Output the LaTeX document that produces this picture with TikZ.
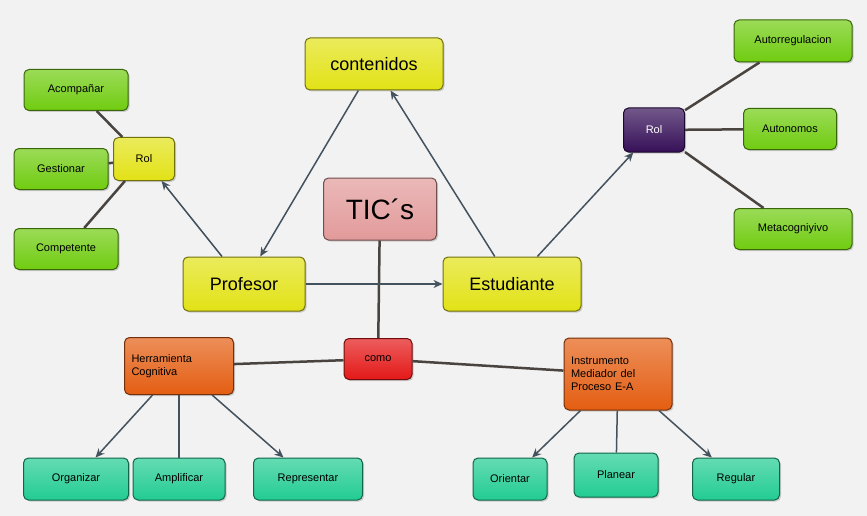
\documentclass[tikz,border=0pt]{standalone}
\usepackage{fontspec}
\setmainfont{Liberation Sans}
\usetikzlibrary{shadows,arrows.meta}
\definecolor{bgc}{HTML}{F2F2F2}
\definecolor{yel}{HTML}{E2E216}
\definecolor{grn}{HTML}{70CC10}
\definecolor{tea}{HTML}{22CC92}
\definecolor{org}{HTML}{E45E12}
\definecolor{rdc}{HTML}{E41818}
\definecolor{pur}{HTML}{361058}
\definecolor{pnk}{HTML}{E29A9A}
\definecolor{arr}{HTML}{44525E}
\definecolor{thk}{HTML}{4A4440}
\tikzset{
 x=1pt,y=-1pt,
 box/.style={draw=#1!50!black,line width=1pt,rounded corners=5pt,top color=#1!70!white,bottom color=#1,
  drop shadow={shadow xshift=1.5pt,shadow yshift=-1.5pt,opacity=0.35},inner sep=0pt,align=center,font=\fontsize{11}{13}\selectfont},
 arw/.style={draw=arr,line width=1.5pt,-{Stealth[length=9pt,width=8pt]}},
 plainarr/.style={draw=arr,line width=1.5pt},
 thick line/.style={draw=thk,line width=2.5pt},
}
\begin{document}
\begin{tikzpicture}
\fill[bgc] (0,0) rectangle (867,516);
\useasboundingbox (0,0) rectangle (867,516);
\node[box=yel,minimum width=138pt,minimum height=52pt,font=\fontsize{18}{20}\selectfont] (cont) at (374,64) {contenidos};
\node[box=pnk,minimum width=113pt,minimum height=62pt,font=\fontsize{28}{30}\selectfont] (tic) at (380,209) {TIC´s};
\node[box=yel,minimum width=122pt,minimum height=54pt,font=\fontsize{18}{20}\selectfont] (prof) at (244,284) {Profesor};
\node[box=yel,minimum width=138pt,minimum height=54pt,font=\fontsize{18}{20}\selectfont] (est) at (512,284) {Estudiante};
\node[box=yel,minimum width=61pt,minimum height=43pt] (rolL) at (144,159) {Rol};
\node[box=grn,minimum width=104pt,minimum height=41pt] (aco) at (76,90) {Acompañar};
\node[box=grn,minimum width=94pt,minimum height=41pt] (ges) at (61,169) {Gestionar};
\node[box=grn,minimum width=104pt,minimum height=41pt] (com) at (66,249) {Competente};
\node[box=pur,minimum width=61pt,minimum height=44pt,text=white] (rolR) at (654,130) {Rol};
\node[box=grn,minimum width=118pt,minimum height=42pt] (aut) at (793,41) {Autorregulacion};
\node[box=grn,minimum width=93pt,minimum height=41pt] (auto) at (790,129) {Autonomos};
\node[box=grn,minimum width=118pt,minimum height=41pt] (meta) at (793,229) {Metacogniyivo};
\node[box=rdc,minimum width=68pt,minimum height=41pt] (como) at (378,359) {como};
\node[box=org,minimum width=109pt,minimum height=57pt,align=left,text width=95pt] (her) at (179,366) {Herramienta\\Cognitiva};
\node[box=org,minimum width=108pt,minimum height=72pt,align=left,text width=94pt] (ins) at (618,374) {Instrumento\\Mediador del\\Proceso E-A};
\node[box=tea,minimum width=105pt,minimum height=42pt] (orgz) at (76,479) {Organizar};
\node[box=tea,minimum width=92pt,minimum height=42pt] (amp) at (179,479) {Amplificar};
\node[box=tea,minimum width=109pt,minimum height=42pt] (rep) at (308,479) {Representar};
\node[box=tea,minimum width=74pt,minimum height=42pt] (ori) at (510,479) {Orientar};
\node[box=tea,minimum width=84pt,minimum height=44pt] (pla) at (616,475) {Planear};
\node[box=tea,minimum width=87pt,minimum height=42pt] (reg) at (736,479) {Regular};
\draw[thick line] (rolL) -- (aco);
\draw[thick line] (rolL) -- (ges);
\draw[thick line] (rolL) -- (com);
\draw[thick line] (rolR) -- (aut);
\draw[thick line] (rolR) -- (auto);
\draw[thick line] (rolR) -- (meta);
\draw[thick line] (tic) -- (como);
\draw[thick line] (como) -- (her);
\draw[thick line] (como) -- (ins);
\draw[arw] (cont) -- (prof);
\draw[arw] (est) -- (cont);
\draw[arw] (prof) -- (est);
\draw[arw] (prof) -- (rolL);
\draw[arw] (est) -- (rolR);
\draw[arw] (her) -- (orgz);
\draw[plainarr] (her) -- (amp);
\draw[arw] (her) -- (rep);
\draw[arw] (ins) -- (ori);
\draw[plainarr] (ins) -- (pla);
\draw[arw] (ins) -- (reg);
\end{tikzpicture}
\end{document}
